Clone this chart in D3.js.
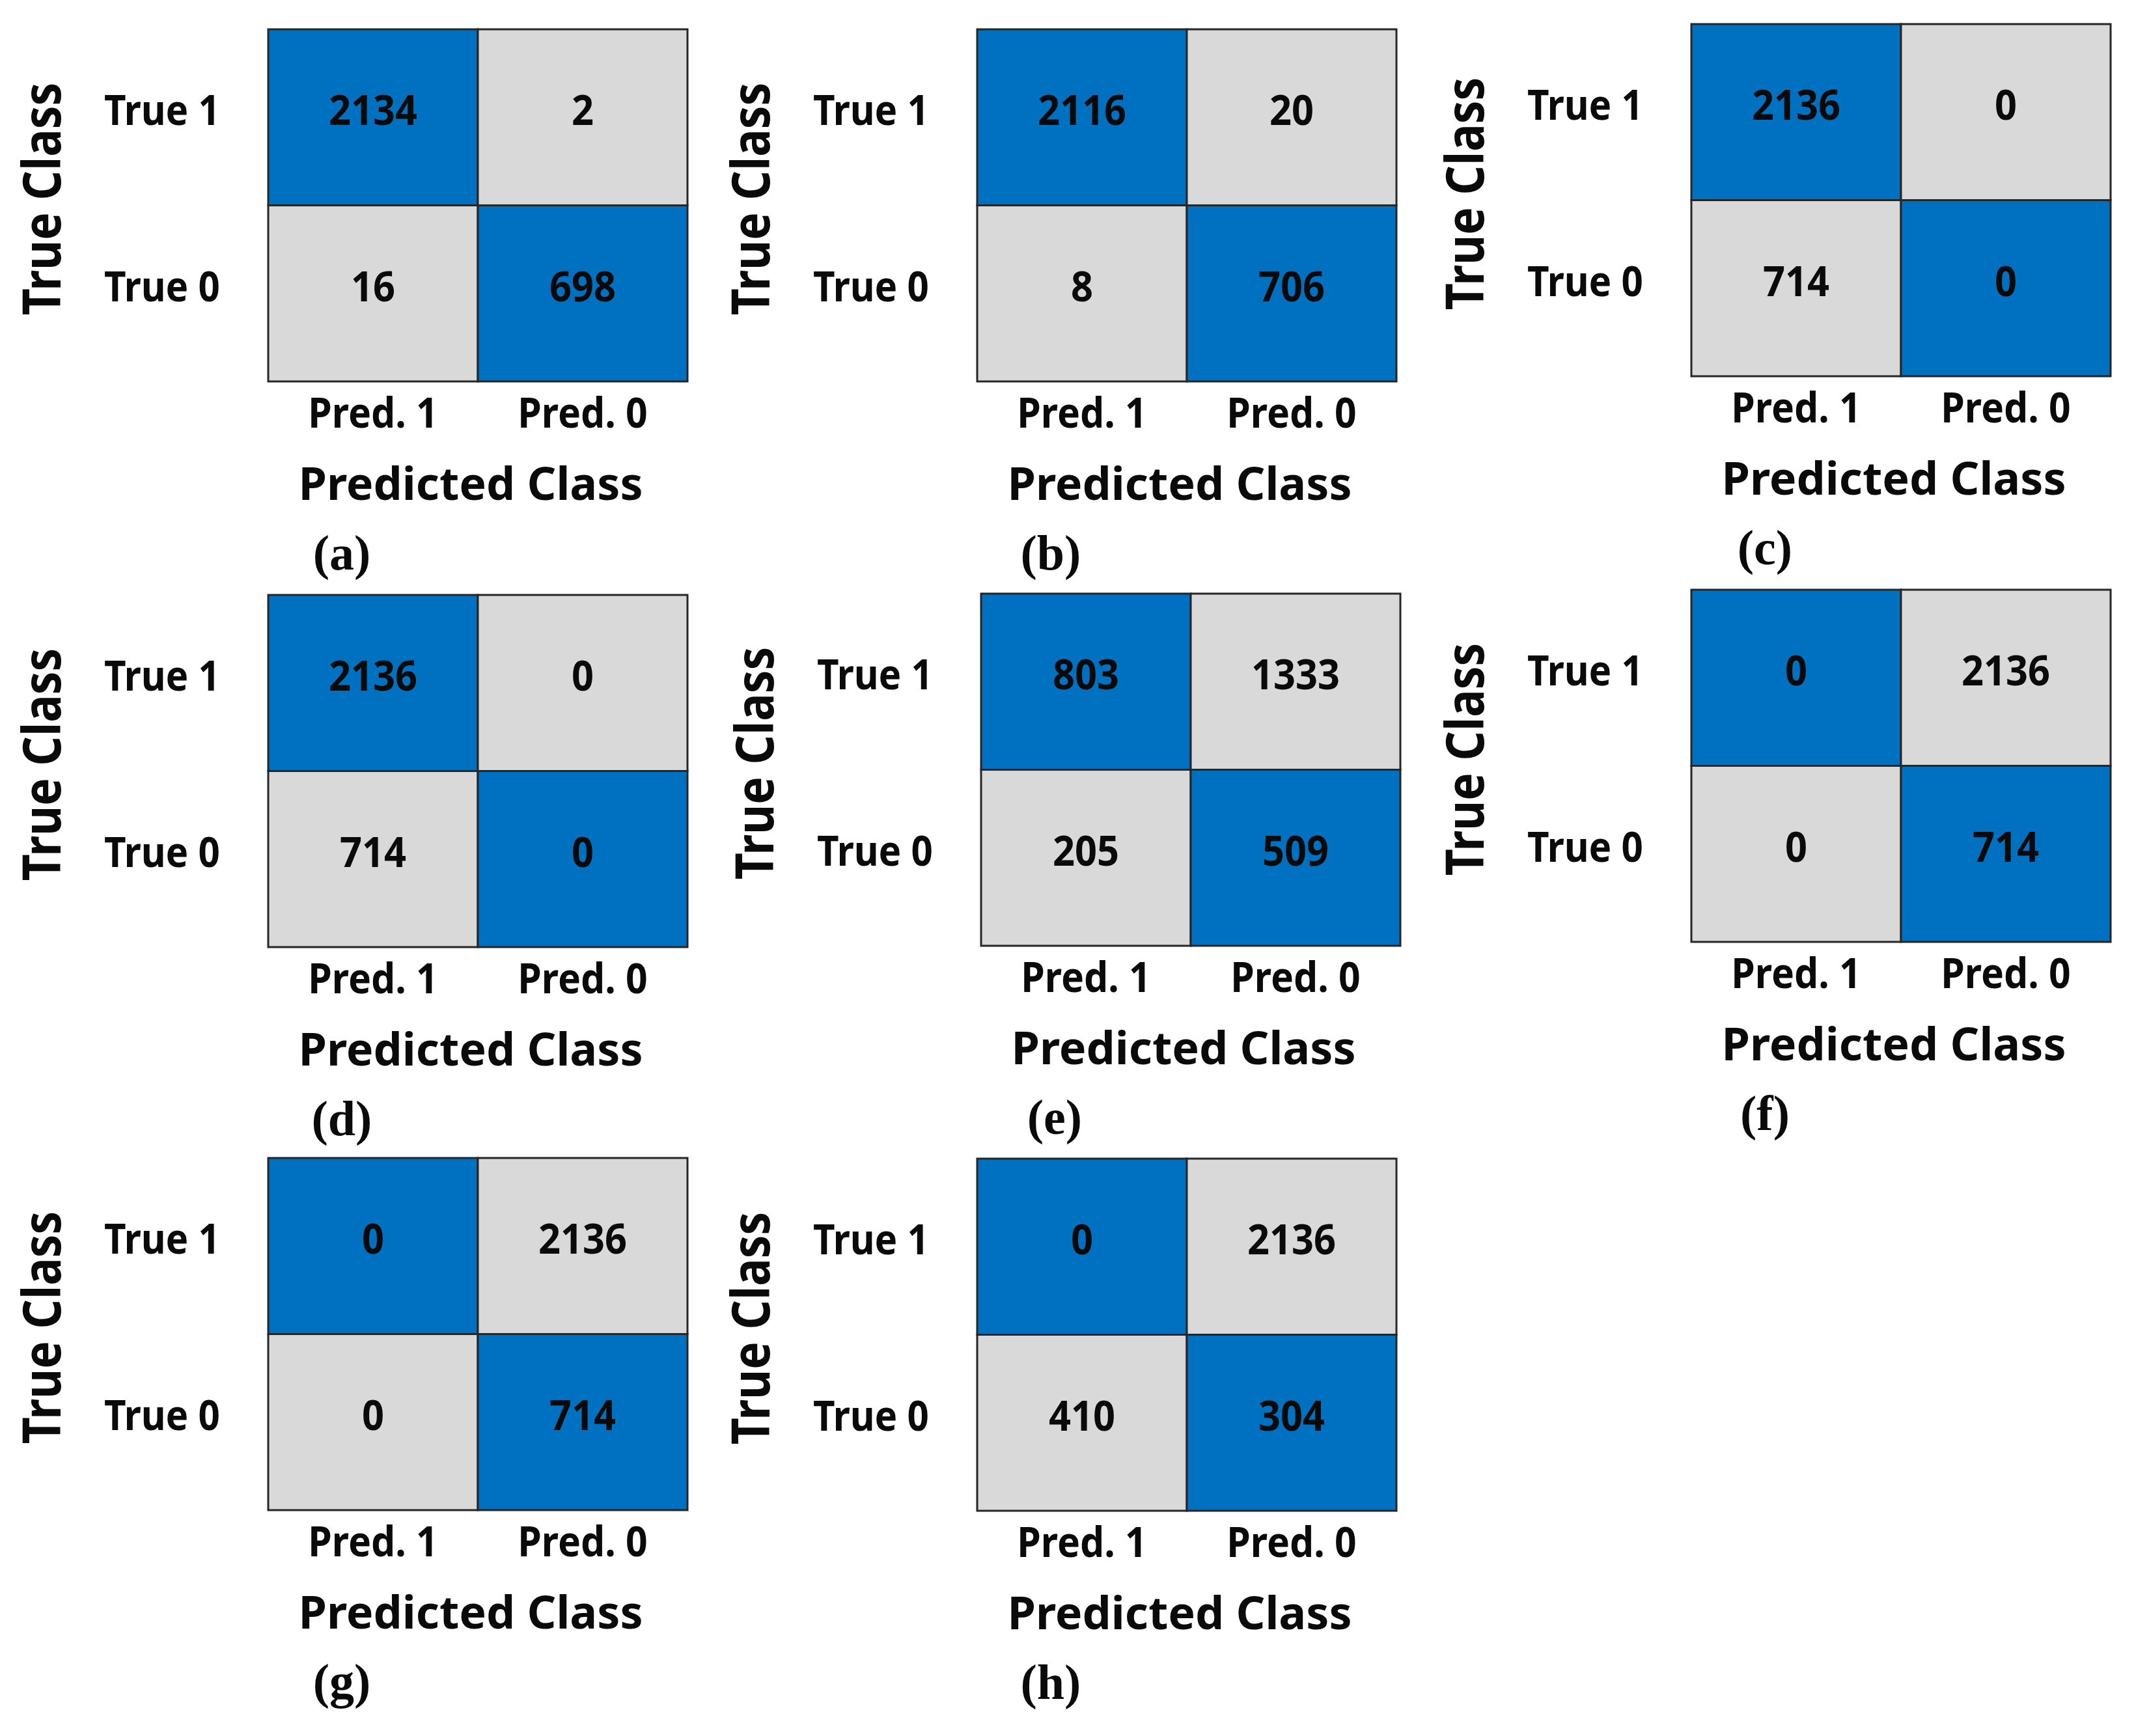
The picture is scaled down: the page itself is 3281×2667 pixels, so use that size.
<!DOCTYPE html>
<html><head><meta charset="utf-8">
<script src="https://cdn.jsdelivr.net/npm/d3@7"></script>
<style>html,body{margin:0;padding:0;background:#fff}</style>
</head><body>
<script>
const panelIds = ["(a)","(b)","(c)","(d)","(e)","(f)","(g)","(h)"];
const rowLabels = ["True 1","True 0"];
const colLabels = ["Pred. 1","Pred. 0"];
// values per panel: [T1P1, T1P0, T0P1, T0P0]
const valsA = [2134, 2, 16, 698];
const valsB = [2116, 20, 8, 706];
const valsC = [2136, 0, 714, 0];
const valsD = [2136, 0, 714, 0];
const valsE = [803, 1333, 205, 509];
const valsF = [0, 2136, 0, 714];
const valsG = [0, 2136, 0, 714];
const valsH = [0, 2136, 410, 304];
const allVals = [valsA, valsB, valsC, valsD, valsE, valsF, valsG, valsH];
const yTitle = "True Class";
const xTitle = "Predicted Class";

const W = 3281, H = 2667;
// matrix top-left corners (layout, px)
const origins = [[412,45],[1501,45],[2598,37],[412,914],[1507,912],[2598,906],[412,1779],[1501,1780]];
const cw = 322, ch = 270.5;

const svg = d3.select("body").append("svg").attr("width", W).attr("height", H)
  .style("font-family", "'Noto Sans', 'Open Sans', sans-serif").style("font-weight", "bold");

const blue = "#0070C0", gray = "#D9D9D9", ink = "#0a0a0a";
const CAP = 0.714; // Noto Sans cap-height ratio

// place text by its cap-centre
function label(g, txt, cx, cy, fs, sx, anchor, rotate) {
  const t = g.append("g").attr("transform",
    `translate(${cx},${cy})` + (rotate ? " rotate(-90)" : "") + ` scale(${sx},1)`);
  t.append("text").attr("x", 0).attr("y", CAP*fs/2)
    .attr("text-anchor", anchor).attr("font-size", fs).attr("fill", ink).text(txt);
  return t;
}

allVals.forEach((vals, i) => {
  const [ox, oy] = origins[i];
  const g = svg.append("g").attr("transform", `translate(${ox},${oy})`);
  const x = d3.scaleBand().domain(colLabels).range([0, 2*cw]);
  const y = d3.scaleBand().domain(rowLabels).range([0, 2*ch]);
  const cells = [];
  rowLabels.forEach((r, ri) => colLabels.forEach((c, ci) => cells.push({r, c, v: vals[ri*2+ci], diag: ri === ci})));
  g.selectAll("rect.cell").data(cells).join("rect")
    .attr("x", d => x(d.c)).attr("y", d => y(d.r))
    .attr("width", x.bandwidth()).attr("height", y.bandwidth())
    .attr("fill", d => d.diag ? blue : gray)
    .attr("stroke", "#262626").attr("stroke-width", 3);
  cells.forEach(d => label(g, String(d.v), x(d.c) + x.bandwidth()/2, y(d.r) + y.bandwidth()/2 - 11, 64, 0.93, "middle"));
  rowLabels.forEach(d => label(g, d, -252, y(d) + y.bandwidth()/2 - 11, 64, 0.91, "start"));
  colLabels.forEach(d => label(g, d, x(d) + x.bandwidth()/2, 2*ch + 48, 64, 0.92, "middle"));
  label(g, yTitle, -348, ch - 10, 80, 0.89, "middle", true);
  label(g, xTitle, cw - 11, 2*ch + 157, 70, 1.0, "middle");
  g.append("text").attr("x", 113).attr("y", 2*ch + 270 + 19)
    .attr("text-anchor", "middle")
    .style("font-family", "'Liberation Serif', 'Times New Roman', serif")
    .attr("font-size", 76).attr("fill", ink).text(panelIds[i]);
});
</script>
</body></html>
